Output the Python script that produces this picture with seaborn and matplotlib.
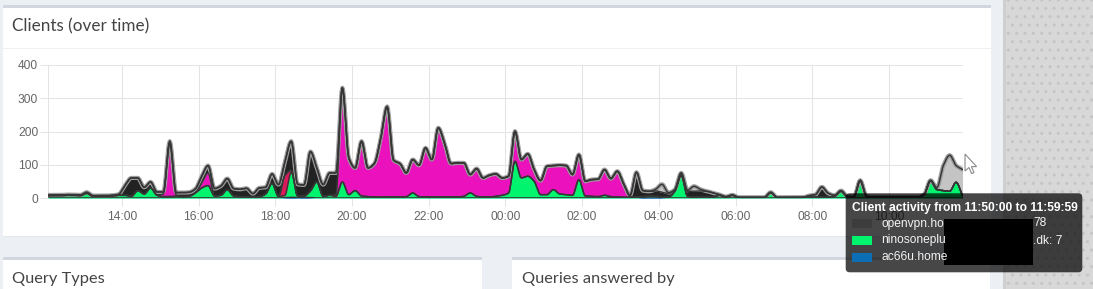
import numpy as np
import pandas as pd
import matplotlib
matplotlib.use("Agg")
import matplotlib.pyplot as plt
import matplotlib.dates as mdates
import seaborn as sns
from matplotlib.patches import Rectangle, FancyBboxPatch, Polygon

# ---------------- data (10-minute buckets, 12:05 -> 11:55) ----------------
start_time = "2019-05-01 12:05"
n_points = 144

ac66u = [1] * 37 + [2, 3, 2, 3, 2] + [1] * 51 + [3, 4, 4, 2] + [1] * 47

ninosoneplus = [
    7, 7, 7, 8, 8, 7,      14, 5, 5, 5, 6, 8,
    8, 5, 22, 12, 30, 8,   4, 4, 5, 4, 5, 15,
    30, 37, 6, 8, 25, 6,   4, 4, 3, 4, 12, 44,
    5, 6, 75, 5, 4, 20,    48, 5, 8, 5, 48, 10,
    22, 6, 4, 3, 3, 3,     3, 3, 4, 15, 4, 3,
    3, 3, 3, 3, 3, 5,      15, 5, 3, 3, 5, 8,
    15, 110, 60, 65, 50, 10,  10, 25, 12, 10, 8, 55,
    6, 5, 4, 8, 4, 3,      2, 2, 2, 2, 2, 2,
    2, 3, 20, 68, 5, 3,    3, 3, 3, 8, 2, 8,
    1, 1, 1, 1, 1, 16,     1, 1, 1, 1, 1, 4,
    2, 3, 2, 5, 20, 3,     3, 52, 4, 2, 2, 2,
    2, 2, 2, 2, 2, 10,     52, 25, 22, 20, 47, 7,
]

crimson_client = [0] * 37 + [60, 6] + [0] * 105

magenta_client = (
    [0] * 18 + [8, 160, 3, 0, 0, 0, 15, 38] + [0] * 19 +
    [5, 282, 110,
     68, 164, 86, 100, 175, 271,
     110, 100, 71, 100, 94, 147,
     112, 207, 160, 100, 102, 100,
     55, 83, 57, 65, 67, 52,
     50, 90, 55, 67, 35, 42,
     85, 72, 86, 87, 62, 75,
     44, 50, 52, 77, 54, 77,
     40, 3] + [0] * 52
)

black_client = [
    2, 2, 2, 2, 2, 2,      3, 2, 2, 2, 2, 3,
    30, 55, 38, 20, 18, 10,  6, 6, 8, 12, 12, 12,
    20, 22, 22, 28, 33, 22,  22, 25, 10, 26, 20, 28,
    35, 40, 87, 35, 33, 118,  42, 35, 67, 65, 0, 0,
] + [0] * 42 + [
    0, 3, 75, 18, 15, 16,  14, 10, 5, 7, 15, 17,
    18, 17, 12, 2, 2, 1,   1, 1, 1, 1, 1, 1,
    1, 1, 1, 1, 1, 3,      8, 30, 12, 3, 2, 2,
    1, 1, 1, 1, 1, 1,      1, 1, 1, 1, 1, 1,
    1, 1, 0, 0, 0, 0,
]

openvpn = [0] * 95 + [5, 24, 3, 0, 0, 3, 15, 5] + [0] * 36 + [5, 75, 108, 50, 78]

series_names = ["ac66u.home", "ninosoneplus", "client-c", "client-m", "client-k", "openvpn.home"]
series_values = [ac66u, ninosoneplus, crimson_client, magenta_client, black_client, openvpn]
series_colors = ["#0c6eb4", "#00f46e", "#dc1a5a", "#eb12bd", "#222222", "#c4c4c4"]

y_ticks = [0, 100, 200, 300, 400]

tooltip_title = "Client activity from 11:50:00 to 11:59:59"

# ---------------- helpers ----------------
W, H = 1093, 289


def smooth(y, sub=8):
    """Monotone cubic (Fritsch-Carlson) rendering of a series, like Chart.js curves."""
    y = np.asarray(y, float)
    n = len(y)
    d = np.diff(y)
    m = np.zeros(n)
    m[0], m[-1] = d[0], d[-1]
    for k in range(1, n - 1):
        if d[k - 1] * d[k] > 0:
            m[k] = 2.0 / (1.0 / d[k - 1] + 1.0 / d[k])
    t = np.linspace(0, 1, sub, endpoint=False)
    h00 = 2 * t**3 - 3 * t**2 + 1
    h10 = t**3 - 2 * t**2 + t
    h01 = -2 * t**3 + 3 * t**2
    h11 = t**3 - t**2
    out = []
    for k in range(n - 1):
        out.append(h00 * y[k] + h10 * m[k] + h01 * y[k + 1] + h11 * m[k + 1])
    out.append(np.array([y[-1]]))
    return np.concatenate(out)


def rect(ax, x0, y0, x1, y1, **kw):
    kw.setdefault("lw", 0)
    ax.add_patch(Rectangle((x0, y0), x1 - x0, y1 - y0, **kw))


sns.set_theme(style="whitegrid")
plt.rcParams["font.family"] = ["Liberation Sans", "DejaVu Sans"]

fig = plt.figure(figsize=(W / 100, H / 100), dpi=100)

# ---------------- page background ----------------
bg = fig.add_axes([0, 0, 1, 1], zorder=0)
bg.set_xlim(0, W)
bg.set_ylim(H, 0)
bg.axis("off")
rect(bg, 0, 0, W, H, fc="#ecf0f5")
rect(bg, 1005, 0, W, H, fc="#d8d8d8", ec="#c5c5c5", hatch="..")
rect(bg, 1003, 0, 1006, H, fc="#cfcfcf")
# top panel
rect(bg, 3, 4.5, 991, 237, fc="#e3e6ea")
rect(bg, 3, 4.5, 991, 236, fc="white")
rect(bg, 3, 4.5, 991, 7.5, fc="#d2d6de")
bg.plot([3, 991], [47.5, 47.5], color="#f0f0f0", lw=0.8)
bg.text(11.7, 26.5, "Clients (over time)", family=["Lato", "DejaVu Sans"],
        fontsize=12.3, color="#444444", va="center", ha="left")
# lower panels
rect(bg, 3, 257, 482, H, fc="white")
rect(bg, 3, 257, 482, 260, fc="#d2d6de")
rect(bg, 512, 257, 990, H, fc="white")
rect(bg, 512, 257, 990, 260, fc="#d2d6de")
bg.text(12, 279.5, "Query Types", family=["Lato", "DejaVu Sans"],
        fontsize=11.8, color="#444444", va="center", ha="left")
bg.text(522, 279.5, "Queries answered by", family=["Lato", "DejaVu Sans"],
        fontsize=11.8, color="#444444", va="center", ha="left")

# ---------------- chart ----------------
times = pd.date_range(start_time, periods=n_points, freq="10min")
xnum = mdates.date2num(times.to_pydatetime())
x0, x1 = xnum[0], xnum[-1]
idx_dense = np.linspace(0, n_points - 1, (n_points - 1) * 8 + 1)
xd = x0 + idx_dense * (x1 - x0) / (n_points - 1)

ax = fig.add_axes([48.3 / W, 1 - 198.3 / H, (962.5 - 48.3) / W, (198.3 - 64.7) / H], zorder=2)
ax.patch.set_alpha(0)

cum = np.zeros(n_points)
lower = np.zeros(len(xd))
tops = []
for vals, col in zip(series_values, series_colors):
    cum = cum + np.asarray(vals, float)
    upper = np.maximum(smooth(cum), lower)
    upper = np.maximum(upper, 0)
    ax.fill_between(xd, lower, upper, color=col, lw=0, zorder=2)
    tops.append(upper)
    lower = upper

sns.lineplot(x=xd, y=tops[-1], ax=ax, color="#9c9c9c", lw=3.0, estimator=None, zorder=3)
for top in tops:
    sns.lineplot(x=xd, y=top, ax=ax, color="#363636", lw=1.05, estimator=None, zorder=4)

ax.set_xlim(x0, x1)
ax.set_ylim(0, 400)
ax.set_yticks(y_ticks)
ax.set_yticklabels([str(v) for v in y_ticks])
ax.xaxis.set_major_locator(mdates.HourLocator(byhour=range(0, 24, 2)))
ax.xaxis.set_major_formatter(mdates.DateFormatter("%H:%M"))
ax.grid(True, color="#e4e4e4", lw=0.75, zorder=0)
ax.axvline(x0, color="#e4e4e4", lw=0.75, zorder=0)
for s in ax.spines.values():
    s.set_visible(False)
ax.tick_params(axis="both", length=5.8, width=0.75, color="#e4e4e4",
               labelcolor="#666666", labelsize=8.64, bottom=True, left=True)
ax.tick_params(axis="x", pad=3.6)
ax.tick_params(axis="y", pad=1.5)
ax.set_xlabel("")
ax.set_ylabel("")

# ---------------- tooltip + cursor overlay ----------------
ov = fig.add_axes([0, 0, 1, 1], zorder=5)
ov.set_xlim(0, W)
ov.set_ylim(H, 0)
ov.axis("off")
ov.patch.set_alpha(0)
ov.add_patch(FancyBboxPatch((845.7, 193.3), 236.6, 79, boxstyle="round,pad=0,rounding_size=4",
                            fc=(0, 0, 0, 0.72), ec="none"))
ov.text(851.5, 207.6, tooltip_title, color="white", fontweight="bold",
        fontsize=8.64, va="center", ha="left")
row_y = [223.5, 240.5, 257.2]
swatch_cols = ["#3c3c3c", series_colors[1], series_colors[0]]
left_txt = ["openvpn.ho", "ninosoneplu", "ac66u.home"]
right_txt = ["78", ".dk: 7", ""]
for yy, sc, lt, rt in zip(row_y, swatch_cols, left_txt, right_txt):
    rect(ov, 851.7, yy - 4.6, 871.7, yy + 4.6, fc=sc)
    ov.text(881, yy, lt, color="#f2f2f2", fontsize=8.64, va="center", ha="left")
    if rt:
        ov.text(1033.3, yy, rt, color="#f2f2f2", fontsize=8.64, va="center", ha="left")
rect(ov, 944.3, 218.5, 1032.7, 264.5, fc="black")

cursor = [(965, 154), (965, 171), (969, 167.5), (971.6, 173.6), (974, 172.6),
          (971.4, 166.6), (976.6, 166.6)]
ov.add_patch(Polygon(cursor, closed=True, fc="white", ec="#8a8a8a", lw=0.8))

fig.savefig("out.png", dpi=100)
